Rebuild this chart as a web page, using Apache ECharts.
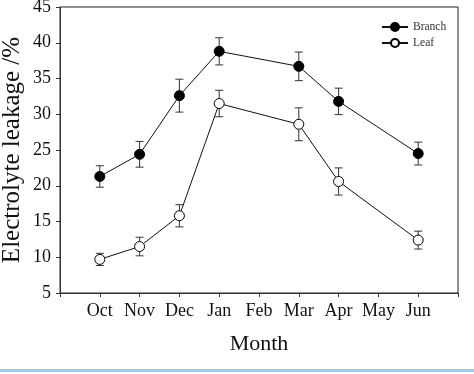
<!DOCTYPE html>
<html>
<head>
<meta charset="utf-8">
<script src="https://cdn.jsdelivr.net/npm/echarts@6/dist/echarts.min.js"></script>
<style>html,body{margin:0;padding:0;background:#fff;}#c{width:474px;height:374px;}</style>
</head>
<body>
<div id="c"></div>
<script>
const months = ['Oct','Nov','Dec','Jan','Feb','Mar','Apr','May','Jun'];
const branchMean = [21.3, 24.4, 32.6, 38.8, null, 36.7, 31.8, null, 24.5];
const branchErr  = [1.5, 1.8, 2.3, 1.9, null, 2.0, 1.85, null, 1.6];
const leafMean   = [9.7, 11.5, 15.8, 31.5, null, 28.6, 20.6, null, 12.4];
const leafErr    = [0.85, 1.3, 1.55, 1.85, null, 2.3, 1.9, null, 1.25];
const yTicks = [5, 10, 15, 20, 25, 30, 35, 40, 45];

const FONT = '"Liberation Serif", "Times New Roman", serif';

function pts(mean) {
  const out = [];
  mean.forEach((v, i) => { if (v !== null) out.push([i + 1, v]); });
  return out;
}
function errs(mean, err) {
  const out = [];
  mean.forEach((v, i) => { if (v !== null) out.push([i + 1, v - err[i], v + err[i]]); });
  return out;
}
function renderErr(params, api) {
  const x = api.value(0), lo = api.value(1), hi = api.value(2);
  const t = api.coord([x, hi]), b = api.coord([x, lo]);
  const hw = 4;
  const style = { stroke: '#333', lineWidth: 1 };
  return { type: 'group', children: [
    { type: 'line', shape: { x1: t[0], y1: t[1], x2: b[0], y2: b[1] }, style },
    { type: 'line', shape: { x1: t[0] - hw, y1: t[1], x2: t[0] + hw, y2: t[1] }, style },
    { type: 'line', shape: { x1: b[0] - hw, y1: b[1], x2: b[0] + hw, y2: b[1] }, style }
  ]};
}

const chart = echarts.init(document.getElementById('c'), null, { renderer: 'canvas' });
chart.setOption({
  animation: false,
  backgroundColor: '#fff',
  textStyle: { fontFamily: FONT },
  grid: { left: 60, right: 16, top: 7, bottom: 81, show: true, borderColor: '#222', borderWidth: 1,
    containLabel: false, outerBoundsMode: 'none' },
  legend: {
    orient: 'vertical', left: 376, top: 16, itemWidth: 26, itemHeight: 10, itemGap: 4,
    textStyle: { fontFamily: FONT, fontSize: 11.5, color: '#333', padding: [0, 0, 0, 0] },
    data: ['Branch', 'Leaf']
  },
  xAxis: {
    type: 'value', min: 0, max: 10, interval: 1,
    name: 'Month', nameLocation: 'middle', nameGap: 40, nameMoveOverlap: false,
    nameTextStyle: { fontFamily: FONT, fontSize: 22, color: '#111' },
    axisLine: { show: true, lineStyle: { color: '#333', width: 1 } },
    axisTick: { show: true, inside: false, length: 4, lineStyle: { color: '#333' } },
    axisLabel: { fontFamily: FONT, fontSize: 18, color: '#111', margin: 9,
      formatter: v => (v >= 1 && v <= months.length) ? months[v - 1] : '' },
    splitLine: { show: false }
  },
  yAxis: {
    type: 'value', min: yTicks[0], max: yTicks[yTicks.length - 1], interval: 5,
    name: 'Electrolyte leakage /%', nameLocation: 'middle', nameGap: 35, nameMoveOverlap: false,
    nameTextStyle: { fontFamily: FONT, fontSize: 25, color: '#111' },
    axisLine: { show: true, lineStyle: { color: '#333', width: 1 } },
    axisTick: { show: true, inside: false, length: 4, lineStyle: { color: '#333' } },
    axisLabel: { fontFamily: FONT, fontSize: 18, color: '#111', margin: 9 },
    splitLine: { show: false }
  },
  series: [
    { type: 'custom', name: 'Branch err', renderItem: renderErr, data: errs(branchMean, branchErr), z: 1, silent: true },
    { type: 'custom', name: 'Leaf err', renderItem: renderErr, data: errs(leafMean, leafErr), z: 1, silent: true },
    { type: 'line', name: 'Branch', data: pts(branchMean), symbol: 'circle', symbolSize: 10, z: 3,
      lineStyle: { color: '#111', width: 1 }, itemStyle: { color: '#000', borderColor: '#000', borderWidth: 1 } },
    { type: 'line', name: 'Leaf', data: pts(leafMean), symbol: 'circle', symbolSize: 10, z: 3,
      lineStyle: { color: '#111', width: 1 }, itemStyle: { color: '#fff', borderColor: '#000', borderWidth: 1 } }
  ],
  graphic: [
    { type: 'rect', left: 0, top: 369, shape: { width: 474, height: 3 }, style: { fill: '#8fd0ee' }, silent: true }
  ]
});
</script>
</body>
</html>
